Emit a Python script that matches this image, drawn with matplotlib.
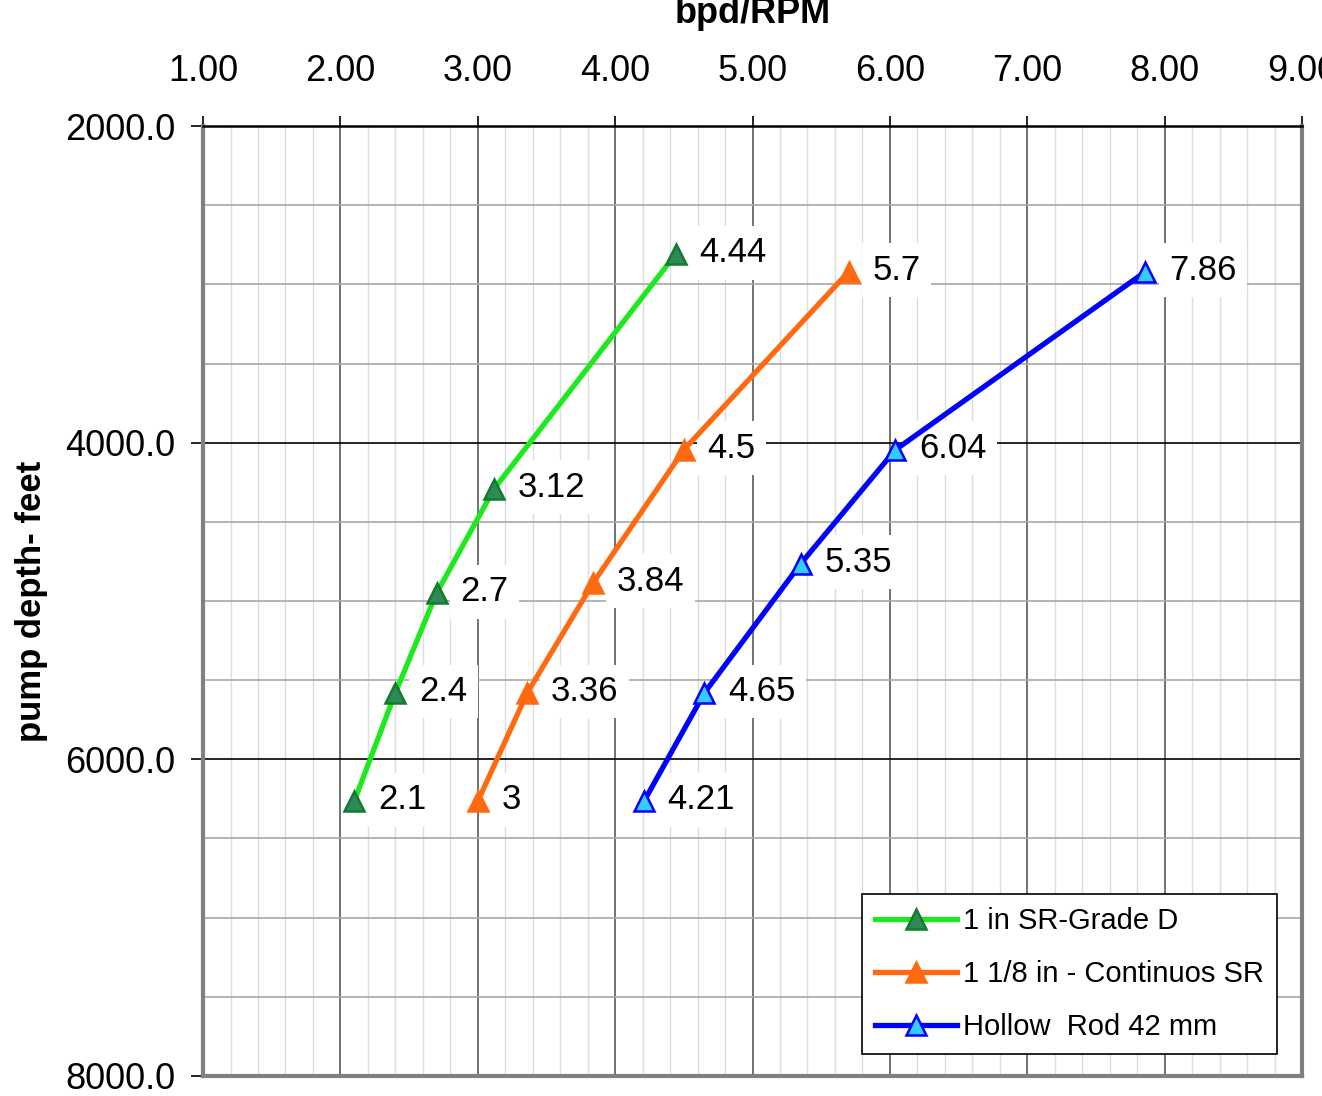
import matplotlib
matplotlib.use("Agg")
import matplotlib.pyplot as plt
from matplotlib.ticker import MultipleLocator, FormatStrFormatter

plt.rcParams['font.family'] = ['Liberation Sans', 'DejaVu Sans']

# ===============================
# Data (bpd/RPM vs pump depth)
# ===============================
series_names = ["1 in SR-Grade D", "1 1/8 in - Continuos SR", "Hollow  Rod 42 mm"]

green_bpd = [4.44, 3.12, 2.70, 2.40, 2.10]
green_depth = [2810, 4290, 4950, 5580, 6265]

orange_bpd = [5.70, 4.50, 3.84, 3.36, 3.00]
orange_depth = [2920, 4045, 4885, 5580, 6265]

blue_bpd = [7.86, 6.04, 5.35, 4.65, 4.21]
blue_depth = [2920, 4045, 4765, 5580, 6265]

x_ticks = [1, 2, 3, 4, 5, 6, 7, 8, 9]
y_ticks = [2000, 4000, 6000, 8000]

# line colour, marker face, marker edge
styles = [
    ("#1EE81E", "#2E8B57", "#137A2E"),
    ("#FF6A10", "#FF6A10", "#FF6A10"),
    ("#0000FF", "#33CCFF", "#0000FF"),
]

# ===============================
# Figure
# ===============================
fig = plt.figure(figsize=(13.22, 10.96), dpi=100)
ax = fig.add_axes([0.1536, 0.0183, 0.8313, 0.8667])

all_series = [(green_bpd, green_depth), (orange_bpd, orange_depth), (blue_bpd, blue_depth)]
for (xs, ys), name, (lc, mf, me) in zip(all_series, series_names, styles):
    ax.plot(xs, ys, color=lc, lw=3.8, marker="^", markersize=15,
            markerfacecolor=mf, markeredgecolor=me, markeredgewidth=1.8,
            label=name, zorder=4)
    for x, y in zip(xs, ys):
        lab = f"{x:g}"
        ax.annotate(lab, (x, y), xytext=(17, 1), textcoords="offset points",
                    ha="left", va="center", fontsize=25, color="black", zorder=3,
                    bbox=dict(boxstyle="square,pad=0.3", fc="white", ec="none"))

ax.set_xlim(1, 9)
ax.set_ylim(8000, 2000)

ax.xaxis.tick_top()
ax.xaxis.set_label_position("top")
ax.set_xticks(x_ticks)
ax.xaxis.set_major_formatter(FormatStrFormatter("%.2f"))
ax.xaxis.set_minor_locator(MultipleLocator(0.2))
ax.set_yticks(y_ticks)
ax.yaxis.set_major_formatter(FormatStrFormatter("%.1f"))
ax.yaxis.set_minor_locator(MultipleLocator(500))

ax.tick_params(axis="x", which="major", direction="out", length=7, width=1.2,
               labelsize=26, pad=20, colors="black")
ax.tick_params(axis="y", which="major", direction="out", length=9, width=1.2,
               labelsize=26, pad=11, colors="black")
ax.tick_params(which="minor", length=0)

ax.grid(axis="x", which="major", color="#5A5A5A", lw=1.2, zorder=1)
ax.grid(axis="x", which="minor", color="#DCDCDC", lw=1.0, zorder=0)
ax.grid(axis="y", which="major", color="black", lw=1.2, zorder=1)
ax.grid(axis="y", which="minor", color="#A8A8A8", lw=1.2, zorder=0)
ax.set_axisbelow(True)

for side in ["left", "right", "bottom"]:
    ax.spines[side].set_color("#808080")
    ax.spines[side].set_linewidth(3)
ax.spines["top"].set_color("black")
ax.spines["top"].set_linewidth(1.8)

ax.set_xlabel("bpd/RPM", fontsize=26, fontweight="bold", labelpad=22)
ax.set_ylabel("pump depth- feet", fontsize=25, fontweight="bold", labelpad=12)

leg = ax.legend(loc="lower right", fontsize=21,
                frameon=True, fancybox=False, edgecolor="black", framealpha=1,
                handlelength=2.8, handletextpad=0.2, labelspacing=0.85,
                borderpad=0.45, borderaxespad=0)
leg.get_frame().set_linewidth(1.2)
# legend box sits a little above the bottom spine
leg.set_bbox_to_anchor((0.977, 0.023), transform=ax.transAxes)

fig.savefig("out.png", dpi=100)
